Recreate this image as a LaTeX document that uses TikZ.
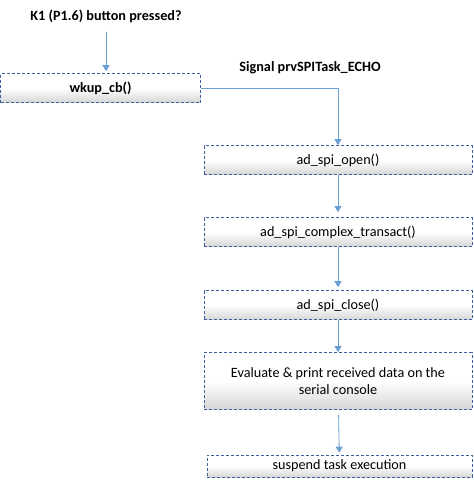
\documentclass[tikz,border=0pt]{standalone}
\usepackage{fontspec}
\setmainfont{Carlito}
\usepackage{tikz}
\usetikzlibrary{arrows.meta,positioning}
\definecolor{lineblue}{HTML}{6A9FD2}
\definecolor{boxblue}{HTML}{3F5FA0}

\begin{document}
\begin{tikzpicture}[
  x=1pt, y=-1pt,
  font=\fontsize{14.2}{17}\selectfont,
  every node/.style={align=center},
  fn/.style={draw=boxblue, densely dashed, line width=0.7pt, top color=white,
             bottom color=black!16, middle color=white, inner sep=2pt,
             minimum width=268pt, minimum height=29pt},
  hd/.style={font=\fontsize{14.2}{17}\selectfont\bfseries},
  fl/.style={-{Triangle[length=6pt,width=7pt]}, draw=lineblue, line width=0.8pt},
]
\useasboundingbox (0,0) rectangle (474,488);

% ---------- trigger ----------
\node[hd] (btn) at (106,16) {K1 (P1.6) button pressed?};
\node[fn, font=\fontsize{14.2}{17}\selectfont\bfseries, minimum width=200pt]
  (wkup) at (100.5,88) {wkup\_cb()};
\node[hd] (sig) at (310,68) {Signal prvSPITask\_ECHO};

% ---------- task steps ----------
\node[fn] (open) at (338,160) {ad\_spi\_open()};
\node[fn] (xfer) at (338,232) {ad\_spi\_complex\_transact()};
\node[fn] (close) at (338,305) {ad\_spi\_close()};
\node[fn, minimum height=57pt] (eval) at (338,381)
  {Evaluate \& print received data on the\\serial console};
\node[fn, minimum width=265pt, minimum height=22pt] (susp) at (339.5,466)
  {suspend task execution};

% ---------- flow ----------
\draw[fl, shorten <=6pt, shorten >=2pt] (btn.south) -- (btn.south |- wkup.north);
\draw[fl] (wkup.east) -| (open.north);
\draw[fl, shorten >=5pt] (open) -- (xfer);
\draw[fl, shorten >=3pt] (xfer) -- (close);
\draw[fl] (close) -- (eval);
\draw[fl, shorten <=5pt, shorten >=2pt] (eval) -- (susp);
\end{tikzpicture}
\end{document}
